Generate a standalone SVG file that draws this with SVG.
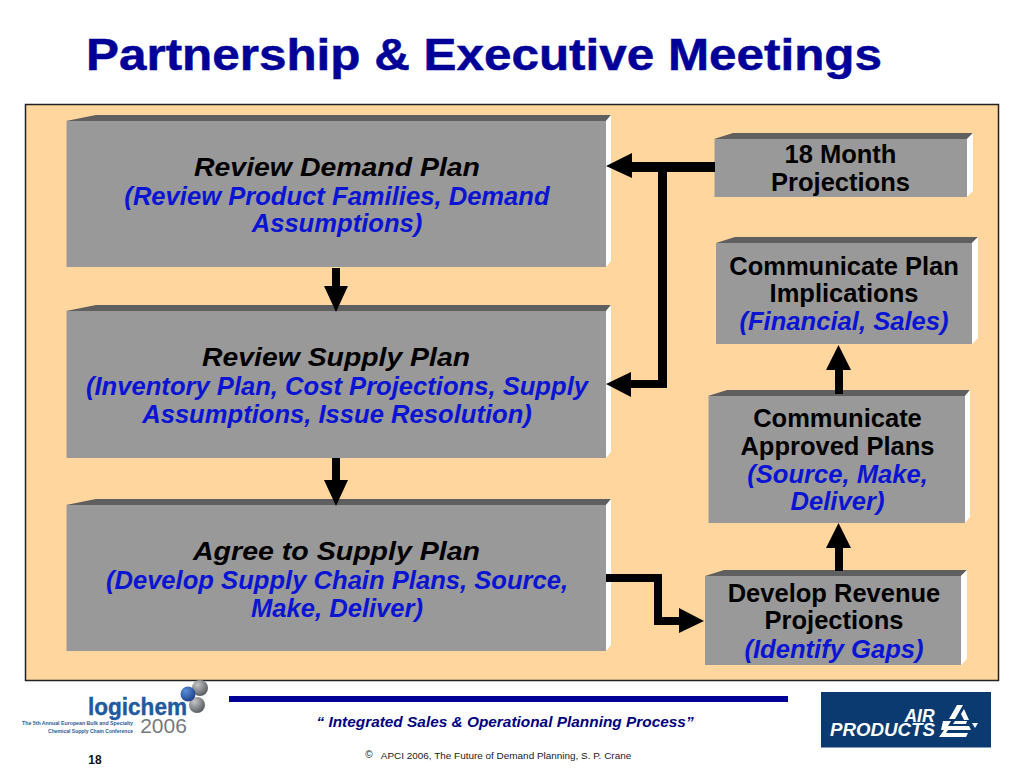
<svg xmlns="http://www.w3.org/2000/svg" width="1024" height="768" viewBox="0 0 1024 768">
<defs>
<radialGradient id="g1" cx="35%" cy="30%" r="75%"><stop offset="0" stop-color="#c4c6c8"/><stop offset="1" stop-color="#55585c"/></radialGradient>
<radialGradient id="b1" cx="35%" cy="30%" r="75%"><stop offset="0" stop-color="#5b8fdc"/><stop offset="1" stop-color="#1c3f86"/></radialGradient>
</defs>
<style>
text{font-family:"Liberation Sans",Arial,sans-serif;text-anchor:middle}
.h{font-size:25.500px;font-weight:bold;fill:#000}
.hi{font-size:26.500px;font-weight:bold;font-style:italic;fill:#000}
.s{font-size:25.600px;font-weight:bold;font-style:italic;fill:#0a14d2}
.f{fill:#999}.t{fill:#5f5f5f}.r{fill:#fff}
.k{fill:#000}
</style>
<rect width="1024" height="768" fill="#fff"/>
<text x="484" y="70" font-size="44" font-weight="bold" fill="#000099" stroke="#000099" stroke-width="0.500" textLength="796" lengthAdjust="spacingAndGlyphs">Partnership &amp; Executive Meetings</text>
<rect x="25.500" y="104.500" width="973" height="576" fill="#ffd69e" stroke="#222" stroke-width="1.500"/>
<g id="review-demand">
<polygon class="t" points="66,121 96,115 611,115 606,121"/><polygon class="r" points="606,121 611,115 611,261 606,267"/><rect class="f" x="66.500" y="121" width="539.500" height="146"/>
<text class="hi" x="337" y="176" textLength="286" lengthAdjust="spacingAndGlyphs">Review Demand Plan</text><text class="s" x="337" y="205">(Review Product Families, Demand</text><text class="s" x="337" y="232">Assumptions)</text>
</g>
<g id="review-supply">
<polygon class="t" points="66,311 96,305 611,305 606,311"/><polygon class="r" points="606,311 611,305 611,452 606,458"/><rect class="f" x="66.500" y="311" width="539.500" height="147"/>
<text class="hi" x="336" y="366" textLength="268" lengthAdjust="spacingAndGlyphs">Review Supply Plan</text><text class="s" x="337" y="395">(Inventory Plan, Cost Projections, Supply</text><text class="s" x="337" y="423">Assumptions, Issue Resolution)</text>
</g>
<g id="agree-supply">
<polygon class="t" points="66,505 96,499 611,499 606,505"/><polygon class="r" points="606,505 611,499 611,645 606,651"/><rect class="f" x="66.500" y="505" width="539.500" height="146"/>
<text class="hi" x="336.500" y="560" textLength="287" lengthAdjust="spacingAndGlyphs">Agree to Supply Plan</text><text class="s" x="337" y="589">(Develop Supply Chain Plans, Source,</text><text class="s" x="337" y="617">Make, Deliver)</text>
</g>
<g id="month-projections">
<polygon class="t" points="714,139 733,133 973,133 967,139"/><polygon class="r" points="967,139 973,133 973,191 967,197"/><rect class="f" x="714.500" y="139" width="252.500" height="58"/>
<text class="h" x="840.500" y="163">18 Month</text><text class="h" x="840.500" y="191">Projections</text>
</g>
<g id="communicate-plan">
<polygon class="t" points="716,243 735,237 978,237 972,243"/><polygon class="r" points="972,243 978,237 978,338 972,344"/><rect class="f" x="716" y="243" width="256" height="101"/>
<text class="h" x="844" y="275">Communicate Plan</text><text class="h" x="844" y="302">Implications</text><text class="s" x="844" y="330">(Financial, Sales)</text>
</g>
<g id="communicate-approved">
<polygon class="t" points="708,396 727,390 970,390 965,396"/><polygon class="r" points="965,396 970,390 970,517 965,523"/><rect class="f" x="708.500" y="396" width="256.500" height="127"/>
<text class="h" x="837.500" y="427">Communicate</text><text class="h" x="837.500" y="455">Approved Plans</text><text class="s" x="837.500" y="483">(Source, Make,</text><text class="s" x="837.500" y="510">Deliver)</text>
</g>
<g id="develop-revenue">
<polygon class="t" points="705,576 724,570 967,570 961,576"/><polygon class="r" points="961,576 967,570 967,659 961,665"/><rect class="f" x="705" y="576" width="256" height="89"/>
<text class="h" x="834" y="602">Develop Revenue</text><text class="h" x="834" y="629">Projections</text><text class="s" x="834" y="658">(Identify Gaps)</text>
</g>
<g id="connectors">
<path class="k" d="M332 268h8v18h8l-12 26-12-26h8z"/>
<path class="k" d="M332 458h8v22h8l-12 26-12-26h8z"/>
<path class="k" d="M715 162v10H667V388H631v9L606 384 631 372v8H658V172H632v6L606 166 632 153v9z"/>
<path class="k" d="M835 394V370H826L838.500 345 851 370H843V394z"/>
<path class="k" d="M835 571V548H826L838.500 523 851 548H843V571z"/>
<path class="k" d="M606 574H662V617H679V608L704 621 679 633V625H654V582H606z"/>
</g>
<g id="footer">
<rect x="229" y="696" width="559" height="6" fill="#000099"/>
<text x="505" y="727" font-size="15.400" font-weight="bold" font-style="italic" fill="#000080">“ Integrated Sales &amp; Operational Planning Process”</text>
<text x="95" y="764" font-size="12" font-weight="bold" fill="#111">18</text>
<text x="369" y="758" font-size="10" fill="#222">©</text>
<text x="506" y="759" font-size="9.950" fill="#222">APCI 2006, The Future of Demand Planning, S. P. Crane</text>
</g>
<g id="logichem">
<circle cx="200" cy="688" r="8" fill="url(#g1)"/><circle cx="197" cy="705" r="8" fill="url(#g1)"/><circle cx="188" cy="694" r="7.500" fill="url(#b1)"/>
<text x="137.500" y="715" font-size="23" font-weight="bold" fill="#1f5a9f" stroke="#1f5a9f" stroke-width="0.400" textLength="99" lengthAdjust="spacingAndGlyphs">logichem</text>
<text x="163.500" y="733" font-size="21" fill="#75797d">2006</text>
<text x="133" y="725" font-size="6" font-weight="bold" fill="#2c5a96" style="text-anchor:end" textLength="111" lengthAdjust="spacingAndGlyphs">The 5th Annual European Bulk and Specialty</text>
<text x="133" y="733" font-size="6" font-weight="bold" fill="#2c5a96" style="text-anchor:end" textLength="85" lengthAdjust="spacingAndGlyphs">Chemical Supply Chain Conference</text>
</g>
<g id="air-products">
<rect x="821" y="692" width="170" height="55.500" fill="#0b3a70"/>
<text x="919.500" y="722" font-size="17.500" font-weight="bold" font-style="italic" fill="#fff">AIR</text>
<text x="882.500" y="736" font-size="18.700" font-weight="bold" font-style="italic" fill="#fff">PRODUCTS</text>
<path fill="#fff" d="M957 705h6l-8 14h-6zM964 709l5 11h-5l-3-6zM955 721h12l-1 3h-13zM943 721h8l-3 5h21l2 4H948l-2 3h22l-2 4H939l5-7h-3zM972 723h6l-3 5z"/>
</g>
</svg>
